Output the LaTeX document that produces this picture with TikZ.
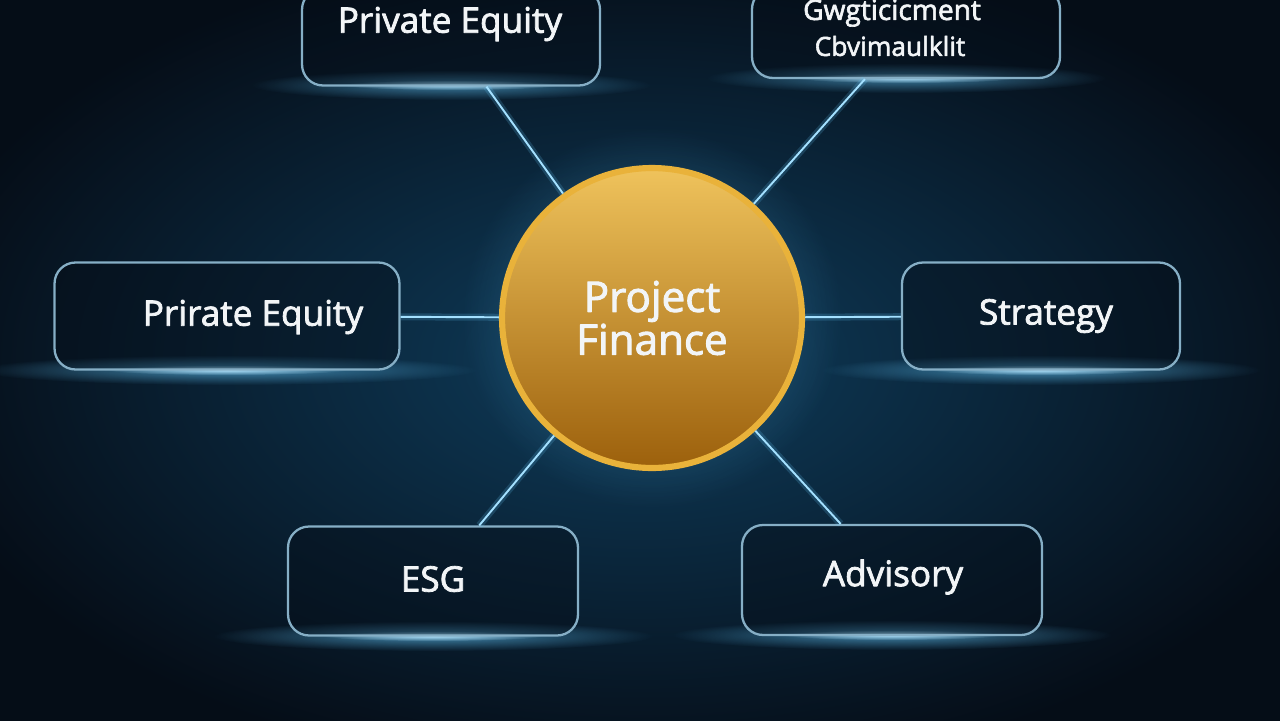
\documentclass[tikz,border=0pt]{standalone}
\usepackage{fontspec}
\setmainfont{Open Sans}[FakeBold=2.2]
\usetikzlibrary{fadings}
\definecolor{bgdeep}{HTML}{050D17}
\definecolor{bgmid}{HTML}{0F3D5C}
\definecolor{rim}{HTML}{86AFC6}
\definecolor{glow}{HTML}{66CCFF}
\definecolor{goldlight}{HTML}{EFC35C}
\definecolor{golddark}{HTML}{9C600C}
\definecolor{goldrim}{HTML}{E9B23A}
\definecolor{label}{HTML}{F2F5F7}
\tikzfading[name=fuzzy, inner color=transparent!0, outer color=transparent!100]
\tikzset{
  box/.style={draw=rim, line width=1.3pt, rounded corners=0.42cm, fill=bgdeep, fill opacity=0.4},
  txt/.style={text=label, font=\fontsize{20}{24}\selectfont},
  link/.style={draw=glow!60!white, line width=1.1pt,
    preaction={draw=glow, line width=4pt, opacity=0.18}},
  shine/.style={fill=glow, path fading=fuzzy},
  core/.style={fill=glow!45!white, path fading=fuzzy, opacity=0.9},
}
\begin{document}
\begin{tikzpicture}[x=0.02cm,y=-0.02cm,line join=round]
  \useasboundingbox (0,0) rectangle (1280,720);
  \clip (0,0) rectangle (1280,720);
  \shade[inner color=bgmid, outer color=bgdeep] (-100,-60) rectangle (1380,780);
  \fill[shine, opacity=0.4] (652,318) ellipse (3.8cm and 3.8cm);
  \fill[shine, opacity=0.55] (451,85) ellipse (4cm and 0.3cm);
  \fill[core] (451,85) ellipse (2.2cm and 0.1cm);
  \fill[shine, opacity=0.55] (906,78) ellipse (4cm and 0.3cm);
  \fill[core] (906,78) ellipse (2.2cm and 0.1cm);
  \fill[shine, opacity=0.6] (227,370) ellipse (5cm and 0.3cm);
  \fill[core] (227,370) ellipse (2.4cm and 0.1cm);
  \fill[shine, opacity=0.6] (1041,370) ellipse (4.4cm and 0.3cm);
  \fill[core] (1041,370) ellipse (2.2cm and 0.1cm);
  \fill[shine, opacity=0.6] (433,636) ellipse (4.4cm and 0.3cm);
  \fill[core] (433,636) ellipse (2.2cm and 0.1cm);
  \fill[shine, opacity=0.6] (892,635) ellipse (4.4cm and 0.3cm);
  \fill[core] (892,635) ellipse (2.2cm and 0.1cm);

  \node[box, minimum width=5.96cm, minimum height=1.94cm] (peTop) at (451,37) {};
  \node[box, minimum width=6.16cm, minimum height=1.8cm] (gov) at (906,33) {};
  \node[box, minimum width=6.9cm, minimum height=2.14cm] (peLeft) at (227,316) {};
  \node[box, minimum width=5.56cm, minimum height=2.14cm] (strat) at (1041,316) {};
  \node[box, minimum width=5.8cm, minimum height=2.18cm] (esg) at (433,581) {};
  \node[box, minimum width=6.0cm, minimum height=2.2cm] (adv) at (892,580) {};

  \node[txt] (tPeTop) at (450,24) {Private Equity};
  \node[txt, font=\fontsize{16}{18}\selectfont] (tGov1) at (892,13) {Gwgticicment};
  \node[txt, font=\fontsize{15}{17}\selectfont] (tGov2) at (890,46) {Cbvimaulklit};
  \node[txt] (tPeLeft) at (253,317) {Prirate Equity};
  \node[txt] (tStrat) at (1046,316) {Strategy};
  \node[txt] (tEsg) at (433,579) {ESG};
  \node[txt] (tAdv) at (893,577) {Advisory};

  \node[circle, minimum size=6cm, draw=goldrim, line width=3.5pt,
    top color=goldlight, bottom color=golddark, inner sep=0pt,
    text=label, align=center, font=\fontsize{24}{23}\selectfont] (pf) at (652,318)
    {Project\\Finance};

  \draw[link] (peTop) -- (pf);
  \draw[link] (gov) -- (pf);
  \draw[link] (peLeft) -- (pf);
  \draw[link] (strat) -- (pf);
  \draw[link] (esg) -- (pf);
  \draw[link] (adv) -- (pf);
\end{tikzpicture}
\end{document}
